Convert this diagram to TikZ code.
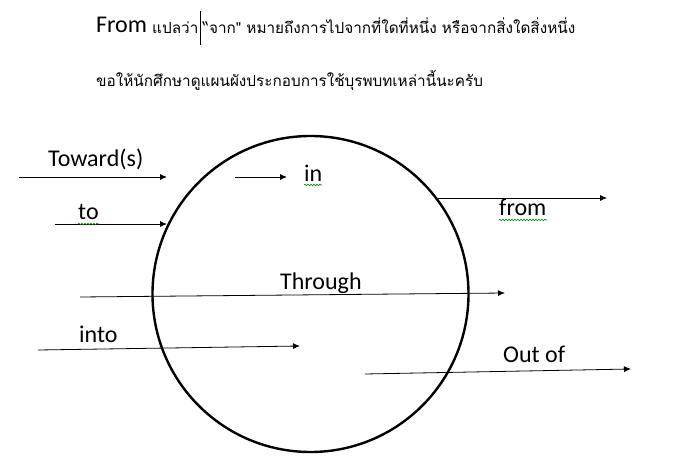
\documentclass[tikz,border=0pt]{standalone}
\usepackage{fontspec}
\setmainfont{Carlito}
\newfontfamily\thaifont[Script=Thai]{Loma}
\usetikzlibrary{arrows.meta,decorations.pathmorphing}
\tikzset{
  arr/.style={line width=0.8pt,-{Latex[length=7pt,width=6pt]}},
  lbl/.style={font=\fontsize{24}{28}\selectfont,inner sep=0pt,anchor=base west},
  thai/.style={font=\thaifont\fontsize{15.3}{18}\selectfont,inner sep=0pt,anchor=base west},
  squig/.style={draw=green!55!black,line width=0.6pt,decorate,decoration={snake,segment length=3pt,amplitude=0.8pt}},
}
\begin{document}
\begin{tikzpicture}[x=1pt,y=-1pt]
\useasboundingbox (0,0) rectangle (697,465);
% heading
\node[lbl] (from0) at (96,33) {From};
\node[thai] (th1) at (152,34) {แปลว่า};
\coordinate (curT) at ([xshift=2pt]th1.east |- 0,11);
\coordinate (curB) at ([xshift=2pt]th1.east |- 0,45);
\draw[line width=1.6pt] (curT) -- (curB);
\node[thai] (th2) at ([xshift=4pt]th1.base east) {“จาก" หมายถึงการไปจากที่ใดที่หนึ่ง หรือจากสิ่งใดสิ่งหนึ่ง};
\node[thai] (th3) at (96,87) {ขอให้นักศึกษาดูแผนผังประกอบการใช้บุรพบทเหล่านี้นะครับ};
% circle
\node[draw,circle,line width=2.4pt,minimum size=316pt,inner sep=0pt] (c) at (310.5,294) {};
% Toward(s)
\coordinate (a1s) at (19,177); \coordinate (a1e) at (167,177);
\draw[arr] (a1s) -- (a1e);
\node[lbl] (towards) at (48,167) {Toward(s)};
% in
\coordinate (a2s) at (235,177); \coordinate (a2e) at (287,177);
\draw[arr] (a2s) -- (a2e);
\node[lbl] (in) at (304,182) {in};
\coordinate (sq1a) at (304,185); \coordinate (sq1b) at (322,185);
\draw[squig] (sq1a) -- (sq1b);
% to
\coordinate (a3s) at (55,224); \coordinate (a3e) at (167,224);
\draw[arr] (a3s) -- (a3e);
\node[lbl] (to) at (78,220) {to};
\coordinate (sq2a) at (78,224); \coordinate (sq2b) at (99,224);
\draw[squig] (sq2a) -- (sq2b);
% from
\coordinate (a4s) at (438,198); \coordinate (a4e) at (607,198);
\draw[arr] (a4s) -- (a4e);
\node[lbl] (fromlbl) at (499,216) {from};
\coordinate (sq3a) at (499,220) ; \coordinate (sq3b) at (547,220);
\draw[squig] (sq3a) -- (sq3b);
% Through
\coordinate (a5s) at (80,297); \coordinate (a5e) at (505,293);
\draw[arr] (a5s) -- (a5e);
\node[lbl] (through) at (280,290) {Through};
% into
\coordinate (a6s) at (38,350); \coordinate (a6e) at (300,346);
\draw[arr] (a6s) -- (a6e);
\node[lbl] (into) at (79,342.5) {into};
% Out of
\coordinate (a7s) at (365,374); \coordinate (a7e) at (631,369);
\draw[arr] (a7s) -- (a7e);
\node[lbl] (outof) at (503,362.5) {Out of};
\end{tikzpicture}
\end{document}
